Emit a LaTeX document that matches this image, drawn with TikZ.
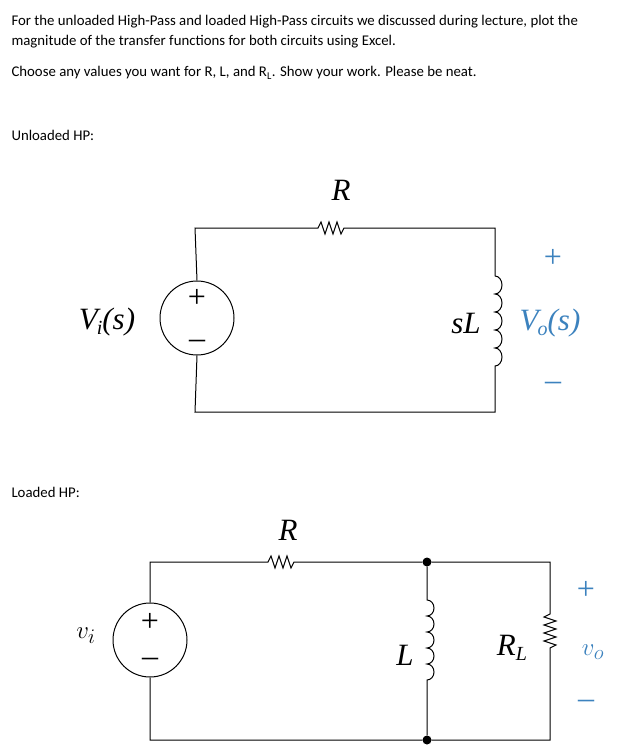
\documentclass[tikz,border=0pt]{standalone}
\usepackage{fontspec}
\setmainfont{Liberation Serif}
\newfontfamily\txt{Carlito}
\definecolor{vb}{RGB}{60,130,190}
\begin{document}
\begin{tikzpicture}[x=1pt,y=-1pt,
  wire/.style={line width=1pt},
  body/.style={font=\txt\fontsize{14.8}{16}\selectfont,anchor=west},
  lab/.style={font=\itshape\fontsize{31}{34}\selectfont},
  sgn/.style={font=\fontsize{32}{32}\selectfont},
  dot/.style={circle,fill,inner sep=0pt,minimum size=9pt}]
\useasboundingbox (0,0) rectangle (644,754);
\node[body] (t1) at (8,22) {For the unloaded High-Pass and loaded High-Pass circuits we discussed during lecture, plot the};
\node[body] (t2) at (8,42) {magnitude of the transfer functions for both circuits using Excel.};
\node[body] (t3) at (8,73) {Choose any values you want for R, L, and R\textsubscript{L}. Show your work. Please be neat.};
\node[body] (t4) at (8,135) {Unloaded HP:};
\node[body] (t5) at (8,492) {Loaded HP:};
% circuit 1
\coordinate (a1) at (195,228); \coordinate (b1) at (495,228);
\coordinate (c1) at (495,412); \coordinate (d1) at (195,412);
\node[draw,circle,wire,minimum size=74pt] (s1) at (197,318) {};
\draw[wire] (s1.north) -- (a1) -- (318,228)
  -- ++(3,-6) -- ++(4,12) -- ++(4,-12) -- ++(4,12) -- ++(4,-12) -- ++(4,12) -- ++(3,-6) -- (b1) -- (495,276);
\draw[wire] (495,276) \foreach \i in {0,...,4}{ arc[start angle=-90,end angle=90,x radius=7,y radius=9] } -- (495,366) -- (c1) -- (d1) -- (s1.south);
\node[sgn] (p1) at (197,298) {+};
\node[sgn] (m1) at (197,344) {\textendash};
\node[lab] (R1) at (341,190) {R};
\node[lab] (sL) at (466,323) {sL};
\node[lab] (vi1) at (107,322) {V\kern-1pt\raisebox{-5pt}{\fontsize{20}{20}\selectfont i}(s)};
\node[lab,vb] (vo1) at (550,323) {V\kern-1pt\raisebox{-5pt}{\fontsize{20}{20}\selectfont o}(s)};
\node[vb,sgn] (pp1) at (553,258) {+};
\node[vb,sgn] (mm1) at (553,386) {\textendash};
% circuit 2
\coordinate (a2) at (150,562); \coordinate (d2) at (150,740);
\node[dot] (n1) at (427,562) {}; \node[dot] (n2) at (427,740) {};
\node[draw,circle,wire,minimum size=74pt] (s2) at (150,640) {};
\draw[wire] (s2.north) -- (a2) -- (268,562)
  -- ++(3,-6) -- ++(4,12) -- ++(4,-12) -- ++(4,12) -- ++(4,-12) -- ++(4,12) -- ++(3,-6) -- (n1) -- (550,562) -- (550,614)
  -- ++(-6,3) -- ++(12,4) -- ++(-12,4) -- ++(12,4) -- ++(-12,4) -- ++(12,4) -- ++(-12,4) -- ++(12,4) -- ++(-6,3) -- (550,740) -- (n2) -- (d2) -- (s2.south);
\draw[wire] (n1) -- (427,600) \foreach \i in {0,...,4}{ arc[start angle=-90,end angle=90,x radius=7,y radius=8] } -- (n2);
\node[sgn] (p2) at (150,622) {+};
\node[sgn] (m2) at (150,662) {\textendash};
\node[lab] (R2) at (288,530) {R};
\node[lab] (L) at (405,655) {L};
\node[lab] (RL) at (512,648) {R\raisebox{-5pt}{\fontsize{20}{20}\selectfont L}};
\node[lab] (vi2) at (86,636) {$v_i$};
\node[lab,vb] (vo2) at (593,652) {$v_o$};
\node[vb,sgn] (pp2) at (586,590) {+};
\node[vb,sgn] (mm2) at (586,704) {\textendash};
\end{tikzpicture}
\end{document}
